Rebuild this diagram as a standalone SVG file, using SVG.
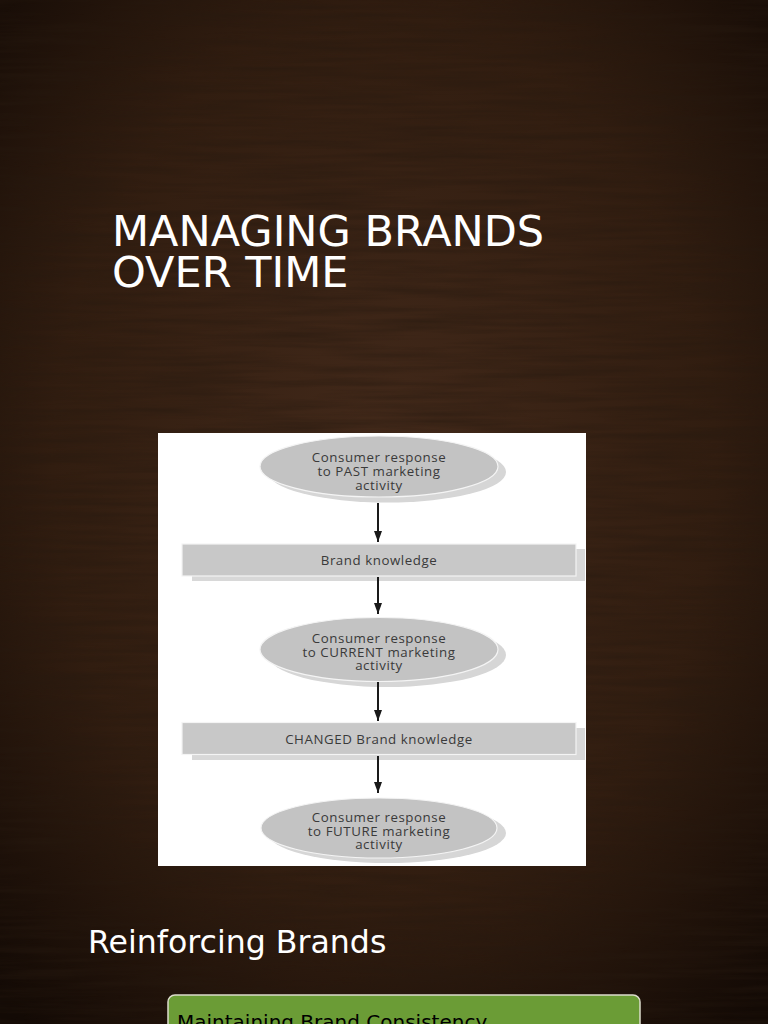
<svg xmlns="http://www.w3.org/2000/svg" width="768" height="1024" viewBox="0 0 768 1024">
<defs>
<radialGradient id="wood" cx="0.5" cy="0.45" r="0.72">
<stop offset="0" stop-color="#42291a"/>
<stop offset="0.6" stop-color="#311d10"/>
<stop offset="1" stop-color="#130a05"/>
</radialGradient>
<filter id="grain" x="0" y="0" width="100%" height="100%">
<feTurbulence type="fractalNoise" baseFrequency="0.008 0.15" numOctaves="3" seed="11"/>
<feColorMatrix type="matrix" values="0 0 0 0 0.02  0 0 0 0 0.01  0 0 0 0 0.005  0 0 0 1.4 -0.5"/>
</filter>
<marker id="arr" markerWidth="12" markerHeight="8" refX="11" refY="4" orient="auto" markerUnits="userSpaceOnUse">
<path d="M0,0 L11,4 L0,8 Z" fill="#1a1a1a"/>
</marker>
<style>
.title{font-family:"DejaVu Sans",sans-serif;fill:#ffffff;}
.lbl{font-family:"Open Sans","Noto Sans",sans-serif;font-size:13.3px;fill:#3a3a3a;text-anchor:middle;letter-spacing:0.55px;}
.ell{fill:#c3c3c3;stroke:#f4f4f4;stroke-width:1.2;}
.ellsh{fill:#d6d6d6;}
.box{fill:#c8c8c8;stroke:#f4f4f4;stroke-width:1.2;}
.boxsh{fill:#d8d8d8;}
.conn{stroke:#1a1a1a;stroke-width:2;fill:none;marker-end:url(#arr);}
</style>
</defs>
<rect x="0" y="0" width="768" height="1024" fill="url(#wood)"/>
<rect x="0" y="0" width="768" height="1024" filter="url(#grain)" opacity="0.7"/>

<g id="title">
<text class="title" x="112" y="246" font-size="43">MANAGING BRANDS</text>
<text class="title" x="112" y="287" font-size="43">OVER TIME</text>
</g>

<g id="figure">
<rect x="158" y="433" width="428" height="433" fill="#ffffff"/>
</g>

<g id="node-past">
<ellipse class="ellsh" cx="387" cy="472" rx="119" ry="30.5"/>
<ellipse class="ell" cx="379" cy="466.5" rx="119" ry="30.5"/>
<text class="lbl" x="379" y="462">Consumer response</text>
<text class="lbl" x="379" y="476">to PAST marketing</text>
<text class="lbl" x="379" y="490">activity</text>
</g>

<g id="node-knowledge">
<rect class="boxsh" x="192" y="549" width="393" height="32"/>
<rect class="box" x="182" y="544" width="394" height="32"/>
<text class="lbl" x="379" y="565">Brand knowledge</text>
</g>

<g id="node-current">
<ellipse class="ellsh" cx="387" cy="655" rx="119" ry="32"/>
<ellipse class="ell" cx="379" cy="649.5" rx="119" ry="32"/>
<text class="lbl" x="379" y="643">Consumer response</text>
<text class="lbl" x="379" y="657">to CURRENT marketing</text>
<text class="lbl" x="379" y="670">activity</text>
</g>

<g id="node-changed">
<rect class="boxsh" x="192" y="728" width="393" height="32"/>
<rect class="box" x="182" y="722.5" width="394" height="32"/>
<text class="lbl" x="379" y="744">CHANGED Brand knowledge</text>
</g>

<g id="node-future">
<ellipse class="ellsh" cx="387" cy="833" rx="119" ry="30"/>
<ellipse class="ell" cx="379" cy="828" rx="118" ry="30"/>
<text class="lbl" x="379" y="822">Consumer response</text>
<text class="lbl" x="379" y="836">to FUTURE marketing</text>
<text class="lbl" x="379" y="849">activity</text>
</g>

<g id="connectors">
<line class="conn" x1="378" y1="503" x2="378" y2="542"/>
<line class="conn" x1="378" y1="577" x2="378" y2="614"/>
<line class="conn" x1="378" y1="682" x2="378" y2="721"/>
<line class="conn" x1="378" y1="756" x2="378" y2="793"/>
</g>

<g id="subtitle">
<text class="title" x="88" y="953" font-size="31.6">Reinforcing Brands</text>
</g>

<g id="node-consistency">
<rect x="168" y="995" width="472" height="60" rx="7" fill="#6b9c36" stroke="#dcdccc" stroke-width="1.5"/>
<text x="177" y="1029" font-family="DejaVu Sans, sans-serif" font-size="20" fill="#000000">Maintaining Brand Consistency</text>
</g>
</svg>
